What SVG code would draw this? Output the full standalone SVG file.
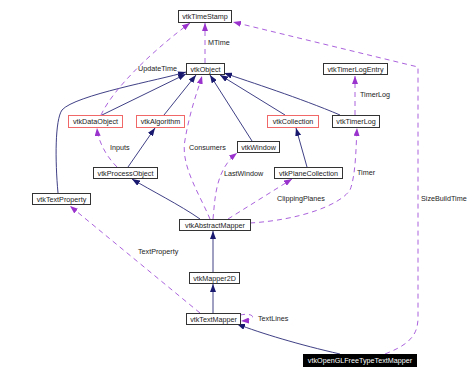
<svg xmlns="http://www.w3.org/2000/svg" width="474" height="375" viewBox="0 0 474 375">
<style>
text{font-family:"Liberation Sans",Arial,sans-serif;font-size:7.2px;fill:#222}
.n rect{fill:#fff;stroke:#333;stroke-width:1}
.n.r rect{stroke:#f06868}
.n.b rect{fill:#000;stroke:#000}
.n.b text{fill:#fff}
.n text{text-anchor:middle}
.inh{fill:none;stroke:#2a2a78;stroke-width:0.9}
.use{fill:none;stroke:#a050d8;stroke-width:0.9;stroke-dasharray:5,4}
</style>
<defs>
<marker id="ai" markerUnits="userSpaceOnUse" markerWidth="8" markerHeight="6" refX="8" refY="3" orient="auto"><path d="M0,0L8,3L0,6z" fill="#191970"/></marker>
<marker id="au" markerUnits="userSpaceOnUse" markerWidth="8" markerHeight="6" refX="8" refY="3" orient="auto"><path d="M0,0L8,3L0,6z" fill="#9a32cd"/></marker>
</defs>
<rect width="474" height="375" fill="#fff"/>
<g id="connectors">
<path class="inh" marker-end="url(#ai)" d="M102,115 L186,74"/>
<path class="inh" marker-end="url(#ai)" d="M164,115 L196,75"/>
<path class="inh" marker-end="url(#ai)" d="M58,193 C55,160 55,120 62,110 C75,95 160,80 186,72"/>
<path class="inh" marker-end="url(#ai)" d="M252,141 L210,75"/>
<path class="inh" marker-end="url(#ai)" d="M285,115 L220,75"/>
<path class="inh" marker-end="url(#ai)" d="M340,115 C300,98 250,82 224,73"/>
<path class="inh" marker-end="url(#ai)" d="M128,167 L155,128"/>
<path class="inh" marker-end="url(#ai)" d="M307,167 L296,128"/>
<path class="inh" marker-end="url(#ai)" d="M200,219 C180,205 150,190 132,179"/>
<path class="inh" marker-end="url(#ai)" d="M213,272 L213,231"/>
<path class="inh" marker-end="url(#ai)" d="M213,313 L213,284"/>
<path class="inh" marker-end="url(#ai)" d="M340,354 C300,345 260,333 237,324"/>
<path class="use" marker-end="url(#au)" d="M205,63 L205,23"/>
<path class="use" marker-end="url(#au)" d="M101,115 C115,85 160,45 190,23"/>
<path class="use" marker-end="url(#au)" d="M385,354 C405,346 418,338 418,318 L418,67 L233,22"/>
<path class="use" marker-end="url(#au)" d="M355,115 L355,76"/>
<path class="use" marker-end="url(#au)" d="M117,167 C105,155 98,140 97,128"/>
<path class="use" marker-end="url(#au)" d="M210,219 C200,195 180,165 185,140 C190,110 198,90 202,76"/>
<path class="use" marker-end="url(#au)" d="M213,219 C215,200 215,170 237,153"/>
<path class="use" marker-end="url(#au)" d="M228,219 L292,179"/>
<path class="use" marker-end="url(#au)" d="M250,223 C300,220 340,205 350,190 C356,175 356,145 357,128"/>
<path class="use" marker-end="url(#au)" d="M200,313 L70,206"/>
<path class="use" marker-end="url(#au)" d="M240,315 C255,312 258,320 241,321"/>
<text x="208" y="45">MTime</text>
<text x="138" y="71">UpdateTime</text>
<text x="360" y="97">TimerLog</text>
<text x="110" y="150">Inputs</text>
<text x="189" y="150">Consumers</text>
<text x="224" y="176">LastWindow</text>
<text x="357" y="175">Timer</text>
<text x="277" y="201">ClippingPlanes</text>
<text x="421" y="201">SizeBuildTime</text>
<text x="138" y="254">TextProperty</text>
<text x="258" y="321">TextLines</text>
</g>
<g id="vtkTimeStamp" class="n"><rect x="178.5" y="10.5" width="53" height="12"/><text x="205" y="19">vtkTimeStamp</text></g>
<g id="vtkObject" class="n"><rect x="186.5" y="63.5" width="38" height="11"/><text x="205.5" y="71.5">vtkObject</text></g>
<g id="vtkTimerLogEntry" class="n"><rect x="323.5" y="63.5" width="64" height="11"/><text x="355.5" y="71.5">vtkTimerLogEntry</text></g>
<g id="vtkDataObject" class="n r"><rect x="68.5" y="115.5" width="54" height="12"/><text x="95.5" y="124">vtkDataObject</text></g>
<g id="vtkAlgorithm" class="n r"><rect x="136.5" y="115.5" width="48" height="12"/><text x="160.5" y="124">vtkAlgorithm</text></g>
<g id="vtkCollection" class="n r"><rect x="267.5" y="115.5" width="51" height="12"/><text x="293" y="124">vtkCollection</text></g>
<g id="vtkTimerLog" class="n"><rect x="332.5" y="115.5" width="47" height="12"/><text x="356" y="124">vtkTimerLog</text></g>
<g id="vtkWindow" class="n"><rect x="237.5" y="141.5" width="42" height="11"/><text x="258.5" y="149.5">vtkWindow</text></g>
<g id="vtkProcessObject" class="n"><rect x="93.5" y="167.5" width="64" height="11"/><text x="125.5" y="175.5">vtkProcessObject</text></g>
<g id="vtkPlaneCollection" class="n"><rect x="274.5" y="167.5" width="68" height="11"/><text x="308.5" y="175.5">vtkPlaneCollection</text></g>
<g id="vtkTextProperty" class="n"><rect x="32.5" y="193.5" width="58" height="11"/><text x="61.5" y="201.5">vtkTextProperty</text></g>
<g id="vtkAbstractMapper" class="n"><rect x="179.5" y="219.5" width="71" height="11"/><text x="215" y="227.5">vtkAbstractMapper</text></g>
<g id="vtkMapper2D" class="n"><rect x="189.5" y="272.5" width="50" height="11"/><text x="214.5" y="280.5">vtkMapper2D</text></g>
<g id="vtkTextMapper" class="n"><rect x="186.5" y="313.5" width="54" height="11"/><text x="213.5" y="321.5">vtkTextMapper</text></g>
<g id="vtkOpenGLFreeTypeTextMapper" class="n b"><rect x="303.5" y="354.5" width="113" height="12"/><text x="360" y="363">vtkOpenGLFreeTypeTextMapper</text></g>
</svg>
